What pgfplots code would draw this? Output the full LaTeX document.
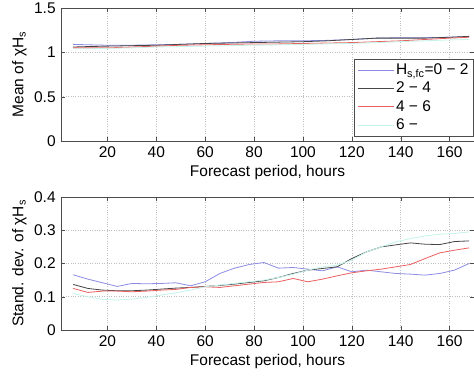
\documentclass[border=0pt]{standalone}
\usepackage{pgfplots}
\pgfplotsset{compat=1.18}
\usepackage{fontspec}
\setmainfont{Liberation Sans}
\definecolor{cblue}{RGB}{140,140,228}
\definecolor{cblack}{RGB}{70,70,70}
\definecolor{cred}{RGB}{235,95,95}
\definecolor{ccyan}{RGB}{195,243,233}
\begin{document}
\fontsize{15.5}{18}\selectfont
\begin{tikzpicture}
\pgfplotsset{
  every axis/.append style={
    scale only axis, width=413pt, height=133pt,
    xmin=1, xmax=170,
    xtick={20,40,...,160},
    tick align=inside,
    major tick length=4pt,
    grid=major,
    major grid style={dotted, gray!50, line width=0.6pt},
    axis line style={gray!60!black, line width=0.9pt},
    tick style={gray!60!black},
    /pgf/number format/assume math mode=true,
    /pgf/number format/fixed,
    tick label style={font=\fontsize{15.5}{18}\selectfont},
    label style={font=\fontsize{15.5}{18}\selectfont},
    xlabel={Forecast period, hours},
    xlabel style={yshift=3pt},
    ylabel style={yshift=-3pt},
    every axis plot/.append style={line width=0.8pt},
    clip=true,
  }
}
\path[use as bounding box] (-61pt,-236pt) rectangle (413pt,141pt);
\begin{axis}[
  ymin=0, ymax=1.5, ytick={0,0.5,1,1.5},
  ylabel={Mean of χH\textsubscript{s}},
  legend style={at={(rel axis cs:1,0.03)}, anchor=south east,
    draw=gray!60!black, line width=0.9pt, font=\fontsize{15.5}{18}\selectfont,
    fill=white, row sep=1pt, inner sep=3pt},
  legend cell align=left,
  legend image post style={line width=0.9pt},
  legend image code/.code={\draw[#1] (0cm,0cm) -- (1.25cm,0cm);},
]
\addplot[cblue] coordinates {(6,1.09)(12,1.085)(20,1.08)(30,1.08)(40,1.085)(50,1.09)(60,1.10)(70,1.11)(80,1.125)(90,1.13)(100,1.13)(110,1.135)(120,1.145)(130,1.16)(140,1.165)(150,1.165)(160,1.17)(168,1.18)};
\addlegendentry{H\textsubscript{s,fc}=0 − 2}
\addplot[cblack] coordinates {(6,1.06)(12,1.065)(20,1.07)(30,1.075)(40,1.08)(50,1.09)(60,1.10)(70,1.105)(80,1.11)(90,1.115)(100,1.12)(110,1.13)(120,1.145)(130,1.16)(140,1.16)(150,1.16)(160,1.17)(168,1.18)};
\addlegendentry{2 − 4}
\addplot[cred] coordinates {(6,1.05)(12,1.05)(20,1.05)(30,1.06)(40,1.07)(50,1.08)(60,1.085)(70,1.09)(80,1.095)(90,1.095)(100,1.10)(110,1.105)(120,1.11)(130,1.12)(140,1.13)(150,1.145)(160,1.16)(168,1.17)};
\addlegendentry{4 − 6}
\addplot[ccyan] coordinates {(6,1.04)(12,1.04)(20,1.045)(30,1.05)(40,1.06)(50,1.065)(60,1.07)(70,1.075)(80,1.08)(90,1.085)(100,1.09)(110,1.095)(120,1.10)(130,1.11)(140,1.12)(150,1.13)(160,1.14)(168,1.145)};
\addlegendentry{6 −}
\end{axis}
\begin{axis}[
  at={(0,-189pt)},
  ymin=0, ymax=0.4, ytick={0,0.1,0.2,0.3,0.4},
  ylabel={Stand. dev. of χH\textsubscript{s}},
]
\addplot[cblue] coordinates {(6,0.166)(12,0.153)(18,0.142)(24,0.131)(30,0.140)(36,0.139)(42,0.140)(48,0.142)(54,0.133)(60,0.145)(66,0.170)(72,0.186)(78,0.197)(84,0.203)(90,0.186)(96,0.188)(102,0.183)(108,0.178)(114,0.190)(120,0.175)(126,0.180)(132,0.175)(138,0.170)(144,0.168)(150,0.165)(156,0.170)(162,0.180)(168,0.200)};
\addplot[cblack] coordinates {(6,0.137)(12,0.125)(18,0.120)(24,0.118)(30,0.118)(36,0.120)(42,0.123)(48,0.126)(54,0.128)(60,0.131)(66,0.134)(72,0.138)(78,0.143)(84,0.148)(90,0.158)(96,0.170)(102,0.180)(108,0.185)(114,0.190)(120,0.215)(126,0.235)(132,0.250)(138,0.256)(144,0.262)(150,0.258)(156,0.257)(162,0.266)(168,0.268)};
\addplot[cred] coordinates {(6,0.125)(12,0.113)(18,0.117)(24,0.117)(30,0.115)(36,0.117)(42,0.120)(48,0.122)(54,0.128)(60,0.130)(66,0.128)(72,0.133)(78,0.138)(84,0.143)(90,0.145)(96,0.155)(102,0.145)(108,0.153)(114,0.163)(120,0.172)(126,0.178)(132,0.183)(138,0.190)(144,0.197)(150,0.215)(156,0.232)(162,0.240)(168,0.247)};
\addplot[ccyan] coordinates {(6,0.110)(12,0.100)(18,0.092)(24,0.090)(30,0.093)(36,0.098)(42,0.105)(48,0.112)(54,0.120)(60,0.130)(66,0.135)(72,0.140)(78,0.145)(84,0.150)(90,0.158)(96,0.168)(102,0.180)(108,0.190)(114,0.195)(120,0.210)(126,0.235)(132,0.250)(138,0.265)(144,0.275)(150,0.283)(156,0.288)(162,0.290)(168,0.295)};
\end{axis}
\end{tikzpicture}
\end{document}
